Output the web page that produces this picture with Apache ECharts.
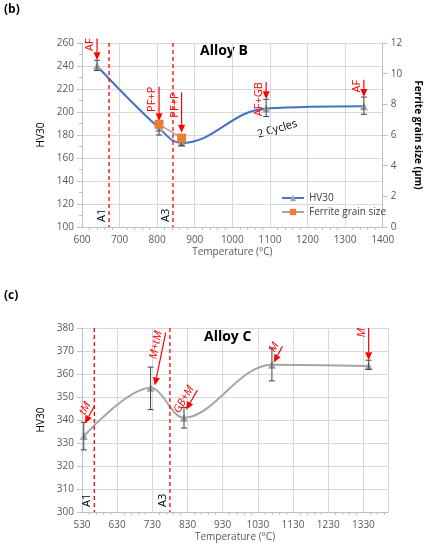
<!DOCTYPE html><html><head><meta charset="utf-8"><script src="https://cdn.jsdelivr.net/npm/echarts@6/dist/echarts.min.js"></script></head><body style="margin:0"><div id="c" style="width:431px;height:550px"></div><script>
const tempB=[640,805,865,1090,1350];
const hvB=[240,186,173,203,205];
const errLoB=[236,180,171,196,198];
const errHiB=[245,192,175,211,213];
const grainT=[805,865];
const grainB=[6.7,5.8];
const tempC=[535,725,820,1070,1345];
const hvC=[333,354,341,364,363.5];
const errLoC=[327,344.5,336.5,357,362];
const errHiC=[339,363,345.5,371,366];
// arrows: [x1,y1,x2,y2,label]
const arrowsB=[[640,264,245,'AF'],[805,222,192,'PF+P'],[865,217,182,'PF+P'],[1090,226,211,'AF+GB'],[1350,228,213,'AF']];
const arrowsC=[[565,346,538,338.5,'tM'],[768,378,737,355,'M+tM'],[858,353,826,344.5,'GB+M'],[1100,372,1075,365,'M'],[1345,380,1345,366,'M']];
const phaseB=[[672,'A1'],[842,'A3']];
const phaseC=[[565,'A1'],[780,'A3']];
const ch=echarts.init(document.getElementById('c'));
const gridLine={show:true,lineStyle:{color:'#d9d9d9'}};
const axLab={color:'#595959',fontSize:10,fontFamily:'Open Sans',formatter:v=>String(v)};
function errSeries(xi,yi,T,lo,hi){return {type:'custom',xAxisIndex:xi,yAxisIndex:yi,z:5,data:T.map((t,i)=>[t,lo[i],hi[i]]),renderItem:(p,api)=>{const a=api.coord([api.value(0),api.value(1)]),b=api.coord([api.value(0),api.value(2)]);const s={stroke:'#404040',lineWidth:1};return {type:'group',children:[{type:'line',shape:{x1:a[0],y1:a[1],x2:b[0],y2:b[1]},style:s},{type:'line',shape:{x1:a[0]-3,y1:a[1],x2:a[0]+3,y2:a[1]},style:s},{type:'line',shape:{x1:b[0]-3,y1:b[1],x2:b[0]+3,y2:b[1]},style:s}]};}};}
function arrowSeries(xi,yi,arr,italic){return {type:'custom',xAxisIndex:xi,yAxisIndex:yi,z:6,clip:false,data:arr.map(a=>a.length===4?[a[0],a[1],a[0],a[2],a[3]]:a),renderItem:(p,api)=>{const d=arr[p.dataIndex];const v=d.length===4?[d[0],d[1],d[0],d[2],d[3]]:d;const s=api.coord([v[0],v[1]]),e=api.coord([v[2],v[3]]);const dx=e[0]-s[0],dy=e[1]-s[1],L=Math.hypot(dx,dy),ux=dx/L,uy=dy/L;const hx=e[0]-ux*8,hy=e[1]-uy*8;const ang=Math.atan2(s[1]-e[1],s[0]-e[0]);const nx=-uy,ny=ux;return {type:'group',children:[{type:'line',shape:{x1:s[0],y1:s[1],x2:hx,y2:hy},style:{stroke:'#ff0000',lineWidth:1.2}},{type:'polygon',shape:{points:[[e[0],e[1]],[hx-uy*3.5,hy+ux*3.5],[hx+uy*3.5,hy-ux*3.5]]},style:{fill:'#ff0000'}},{type:'text',x:s[0]+nx*7,y:s[1]+ny*7,rotation:-ang,style:{text:v[4],fill:'#ff0000',fontSize:11,fontFamily:'Open Sans',fontStyle:italic?'italic':'normal',align:'right',verticalAlign:'middle'}}]};}};}
function phaseSeries(xi,yi,ph,ylo){return {type:'custom',xAxisIndex:xi,yAxisIndex:yi,z:4,data:ph.map(p=>[p[0]]),renderItem:(p,api)=>{const x=api.coord([api.value(0),ylo])[0];const c=p.coordSys;const lab=ph[p.dataIndex][1];return {type:'group',children:[{type:'line',shape:{x1:x,y1:c.y,x2:x,y2:c.y+c.height},style:{stroke:'#ff0000',lineWidth:1.3,lineDash:[4,3]}},{type:'text',x:x-2,y:c.y+c.height-5,rotation:Math.PI/2,style:{text:lab,fill:'#000',fontSize:11,fontFamily:'Open Sans',align:'left',verticalAlign:'bottom'}}]};}};}
ch.setOption({animation:false,
graphic:[{type:'text',left:4,top:4,style:{text:'(b)',font:'bold 12px Open Sans'}},{type:'text',left:4,top:290,style:{text:'(c)',font:'bold 12px Open Sans'}},
{type:'text',left:200,top:44,style:{text:'Alloy B',font:'bold 14px Open Sans'}},{type:'text',left:204,top:330,style:{text:'Alloy C',font:'bold 14px Open Sans'}},
{type:'text',left:256,top:118,rotation:0.28,style:{text:'2 Cycles',font:'11px Open Sans',fill:'#000'}}],
legend:{data:[{name:'HV30'},{name:'Ferrite grain size'}],orient:'vertical',left:276,top:188,itemWidth:22,itemHeight:8,itemGap:4,textStyle:{fontSize:10,fontFamily:'Open Sans',color:'#404040'}},
grid:[{left:82,right:43,top:43,height:184},{left:82,right:43,top:328,height:184}],
xAxis:[{type:'value',gridIndex:0,min:600,max:1400,interval:100,name:'Temperature (°C)',nameLocation:'middle',nameGap:20,nameTextStyle:{color:'#595959',fontSize:10,fontFamily:'Open Sans'},axisLabel:axLab,splitLine:gridLine,axisLine:{lineStyle:{color:'#bfbfbf'}},axisTick:{show:false},minorTick:{show:true,splitNumber:5,lineStyle:{color:'#bfbfbf'}}},
{type:'value',gridIndex:1,min:530,max:1400,interval:100,name:'Temperature (°C)',nameLocation:'middle',nameGap:20,nameTextStyle:{color:'#595959',fontSize:10,fontFamily:'Open Sans'},axisLabel:Object.assign({},axLab,{showMaxLabel:false}),splitLine:gridLine,axisLine:{lineStyle:{color:'#bfbfbf'}},axisTick:{show:false},minorTick:{show:true,splitNumber:5,lineStyle:{color:'#bfbfbf'}}}],
yAxis:[{type:'value',gridIndex:0,min:100,max:260,interval:20,name:'HV30',nameLocation:'middle',nameGap:28,nameTextStyle:{color:'#000',fontSize:10,fontFamily:'Open Sans'},axisLabel:axLab,splitLine:gridLine,axisLine:{show:true,lineStyle:{color:'#bfbfbf'}},axisTick:{show:true,lineStyle:{color:'#bfbfbf'}},minorTick:{show:true,splitNumber:2,lineStyle:{color:'#bfbfbf'}}},
{type:'value',gridIndex:0,position:'right',min:0,max:12,interval:2,name:'Ferrite grain size (µm)',nameLocation:'middle',nameGap:20,nameRotate:-90,nameTextStyle:{color:'#000',fontSize:10,fontWeight:'bold',fontFamily:'Open Sans'},axisLabel:axLab,splitLine:{show:false},axisLine:{show:true,lineStyle:{color:'#bfbfbf'}},axisTick:{show:true,lineStyle:{color:'#bfbfbf'}}},
{type:'value',gridIndex:1,min:300,max:380,interval:10,name:'HV30',nameLocation:'middle',nameGap:28,nameTextStyle:{color:'#000',fontSize:10,fontFamily:'Open Sans'},axisLabel:axLab,splitLine:gridLine,axisLine:{show:true,lineStyle:{color:'#bfbfbf'}},axisTick:{show:true,lineStyle:{color:'#bfbfbf'}}}],
series:[
phaseSeries(0,0,phaseB,100),phaseSeries(1,2,phaseC,300),
errSeries(0,0,tempB,errLoB,errHiB),errSeries(1,2,tempC,errLoC,errHiC),
{name:'HV30',type:'line',xAxisIndex:0,yAxisIndex:0,smooth:0.4,data:tempB.map((t,i)=>[t,hvB[i]]),lineStyle:{color:'#4472c4',width:2},itemStyle:{color:'#a5a5a5'},symbol:'triangle',symbolSize:8,z:3},
{name:'Ferrite grain size',type:'line',xAxisIndex:0,yAxisIndex:1,data:grainT.map((t,i)=>[t,grainB[i]]),lineStyle:{color:'#a5a5a5',width:1.5},itemStyle:{color:'#ed7d31'},symbol:'rect',symbolSize:9,z:7},
{type:'line',xAxisIndex:1,yAxisIndex:2,smooth:0.35,data:tempC.map((t,i)=>[t,hvC[i]]),lineStyle:{color:'#a5a5a5',width:2},itemStyle:{color:'#a5a5a5'},symbol:'triangle',symbolSize:8,z:3},
arrowSeries(0,0,arrowsB,false),arrowSeries(1,2,arrowsC,true)
]});
</script></body></html>
